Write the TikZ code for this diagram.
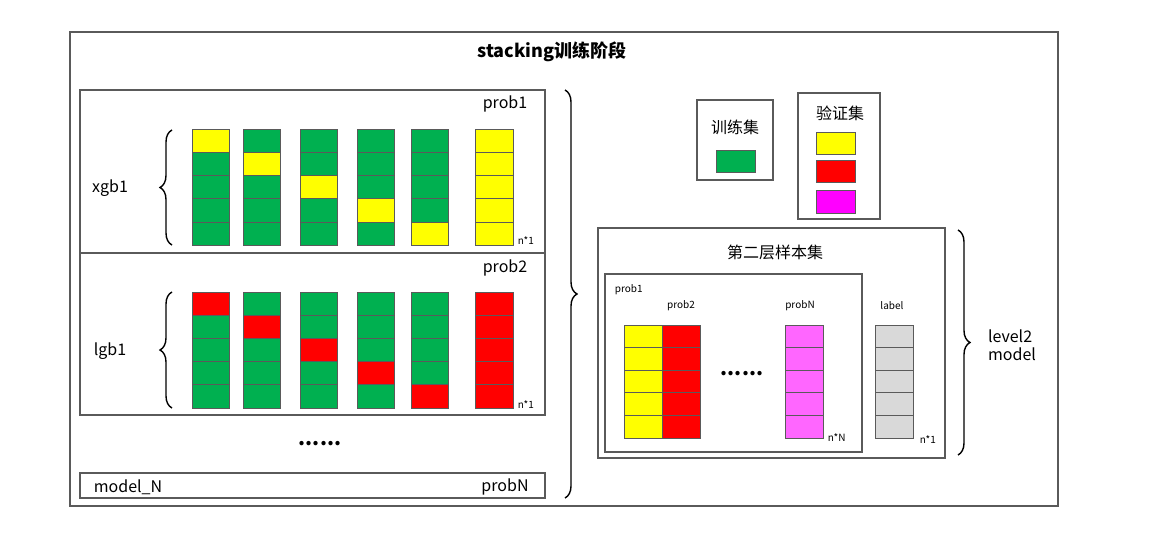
\documentclass[tikz,border=0pt]{standalone}
\usepackage{fontspec}
\setmainfont{Noto Sans CJK SC}
\usetikzlibrary{decorations.pathreplacing}
\definecolor{cgreen}{RGB}{0,176,80}
\definecolor{cyellow}{RGB}{255,255,0}
\definecolor{cred}{RGB}{255,0,0}
\definecolor{cmag}{RGB}{255,0,255}
\definecolor{cpink}{RGB}{255,102,255}
\definecolor{cgray}{RGB}{217,217,217}
\definecolor{cframe}{RGB}{90,90,90}
\begin{document}
\begin{tikzpicture}[x=0.5pt,y=0.5pt,yscale=-1,xscale=1,
  cell/.style={draw=cframe,line width=0.5pt},
  panel/.style={draw=cframe,line width=0.7pt},
  txt/.style={inner sep=0.75pt,font=\fontsize{8}{9}\selectfont},
  tiny/.style={inner sep=0.75pt,font=\fontsize{5}{6}\selectfont},
  brace/.style={decorate,decoration={brace,amplitude=6pt},line width=0.7pt}]
\useasboundingbox (0,0) rectangle (1152,556);

%Shape: Rectangle [outer frame]
\draw [panel] (70,32) rectangle (1058,506);
% Text Node
\node [inner sep=0.75pt,font=\fontsize{9}{10}\selectfont\bfseries] (title) at (552,52) {stacking训练阶段};

%Shape: Rectangle [left panels]
\draw [panel] (80,90) rectangle (545,253);
\draw [panel] (80,253) rectangle (545,415);
\draw [panel] (80,473) rectangle (545,498);
\node [txt] (p1) at (505,104) {prob1};
\node [txt] (p2) at (505,268) {prob2};
\node [txt,anchor=west] (mN) at (92,487) {model\_N};
\node [txt] (pN) at (505,487) {probN};
\node [font=\fontsize{10}{10}\selectfont\bfseries] (dots1) at (320,444) {......};

% xgb1 block
\node [txt] (xgb) at (110,188) {xgb1};
\draw [brace] (172,245) -- (172,130);
\foreach \x [count=\i] in {192,243,300,357,411}{
  \foreach \r in {0,...,4}{
    \pgfmathtruncatemacro{\hit}{(\r+1)==\i ? 1 : 0}
    \ifnum\hit=1 \def\cc{cyellow}\else\def\cc{cgreen}\fi
    \draw [cell,fill=\cc] (\x,130+23*\r) rectangle (\x+37,153+23*\r);
  }
}
\foreach \r in {0,...,4}
  \draw [cell,fill=cyellow] (475,130+23*\r) rectangle (513,153+23*\r);
\node [tiny,anchor=west] (n1a) at (516,241) {n*1};

% lgb1 block
\node [txt] (lgb) at (110,351) {lgb1};
\draw [brace] (172,408) -- (172,292);
\foreach \x [count=\i] in {192,243,300,357,411}{
  \foreach \r in {0,...,4}{
    \pgfmathtruncatemacro{\hit}{(\r+1)==\i ? 1 : 0}
    \ifnum\hit=1 \def\cc{cred}\else\def\cc{cgreen}\fi
    \draw [cell,fill=\cc] (\x,292+23.2*\r) rectangle (\x+37,315.2+23.2*\r);
  }
}
\foreach \r in {0,...,4}
  \draw [cell,fill=cred] (475,292+23.2*\r) rectangle (513,315.2+23.2*\r);
\node [tiny,anchor=west] (n1b) at (516,405) {n*1};

% big brace
\draw [brace] (565,90) -- (565,498);

%Shape: Rectangle [train set]
\draw [panel] (697,100) rectangle (773,180);
\node [txt] (train) at (735,127) {训练集};
\draw [cell,fill=cgreen] (716,151) rectangle (755,173);

%Shape: Rectangle [valid set]
\draw [panel] (798,93) rectangle (880,219);
\node [txt] (valid) at (840,113) {验证集};
\draw [cell,fill=cyellow] (816,133) rectangle (855,155);
\draw [cell,fill=cred] (816,161) rectangle (855,183);
\draw [cell,fill=cmag] (816,191) rectangle (855,213);

%Shape: Rectangle [second level set]
\draw [panel] (598,228) rectangle (945,458);
\node [txt] (lvl2) at (775,252) {第二层样本集};
\draw [panel] (605,274) rectangle (862,452);
\node [tiny,anchor=west] (q1) at (613,290) {prob1};
\node [tiny] (q2) at (681,306) {prob2};
\node [tiny] (qN) at (800,306) {probN};
\node [tiny] (ql) at (892,306) {label};
\foreach \r in {0,...,4}{
  \draw [cell,fill=cyellow] (624,325+22.6*\r) rectangle (662,347.6+22.6*\r);
  \draw [cell,fill=cred] (662,325+22.6*\r) rectangle (700,347.6+22.6*\r);
  \draw [cell,fill=cpink] (785,325+22.6*\r) rectangle (823,347.6+22.6*\r);
  \draw [cell,fill=cgray] (875,325+22.6*\r) rectangle (913,347.6+22.6*\r);
}
\node [font=\fontsize{10}{10}\selectfont\bfseries] (dots2) at (742,374) {......};
\node [tiny,anchor=west] (nN) at (826,438) {n*N};
\node [tiny,anchor=west] (n1c) at (918,440) {n*1};

% right brace
\draw [brace] (958,230) -- (958,455);
\node [txt,align=left] (model) at (1012,345) {level2\\model};
\end{tikzpicture}
\end{document}
